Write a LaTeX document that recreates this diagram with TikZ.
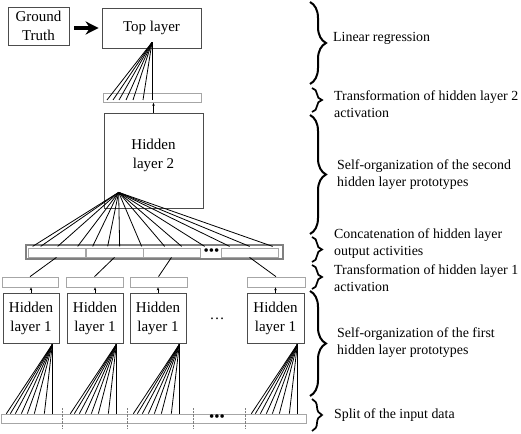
\documentclass[tikz,border=0pt]{standalone}
\usepackage{fontspec}
\setmainfont{Liberation Serif}
\usetikzlibrary{arrows.meta, calc, decorations.pathreplacing}

\begin{document}
\begin{tikzpicture}[x=1pt, y=-1pt]
	\tikzstyle{layer} = [rectangle, draw=black!70, line width=0.7pt, inner sep=0pt, 
	align=center, font=\fontsize{15}{19}\selectfont]
	\tikzstyle{bar} = [rectangle, draw=black!35, line width=0.7pt, fill=white, 
	inner sep=0pt, minimum height=9pt]
	\tikzstyle{link} = [line width=0.8pt]
	\tikzstyle{arrow} = [line width=0.6pt, -{Stealth[length=3pt, width=2.5pt]}]
	\tikzstyle{bigarrow} = [line width=3.5pt, -{Stealth[length=13pt, width=13pt]}, 
	shorten <=5pt, shorten >=3pt]
	\tikzstyle{bigBrace} = [decorate, decoration={brace, amplitude=16pt}, line width=2pt]
	\tikzstyle{smallBrace} = [decorate, decoration={brace, amplitude=10pt}, line width=1.7pt]
	\tikzstyle{note} = [anchor=west, align=left, inner sep=0pt, 
	font=\fontsize{13.9}{17}\selectfont]
	\tikzstyle{dots} = [inner sep=0pt, font=\fontsize{15}{19}\selectfont]
	\useasboundingbox (0,0) rectangle (521,433);
	% top part
	\node (groundTruth) [layer, minimum width=61pt, minimum height=38pt] at (38.5,26) {Ground\\Truth};
	\node (topLayer) [layer, minimum width=99pt, minimum height=40pt] at (151.5,28) {Top layer};
	\node (topBar) [bar, minimum width=98pt] at (152.5,98) {};
	\node (hiddenTwo) [layer, minimum width=99pt, minimum height=95pt, text depth=14pt] 
	at (153.5,160.5) {Hidden\\layer 2};
	% concatenation
	\node (concatBar) [bar, draw=black!50, line width=1.2pt, minimum width=257pt, 
	minimum height=14pt] at (154.5,252) {};
	\node (concatA) [bar, minimum width=57pt] at (56.5,252.5) {};
	\node (concatB) [bar, minimum width=57pt] at (114.5,252.5) {};
	\node (concatC) [bar, minimum width=57pt] at (171.5,252.5) {};
	\node (concatDots) [dots] at (211.5,252.5) {•••};
	\node (concatD) [bar, minimum width=57pt] at (249.5,252.5) {};
	% first hidden layer
	\node (transA) [bar, minimum width=56pt, minimum height=10pt] at (30,282) {};
	\node (transB) [bar, minimum width=57pt, minimum height=10pt] at (94.5,282) {};
	\node (transC) [bar, minimum width=57pt, minimum height=10pt] at (158.5,282) {};
	\node (transD) [bar, minimum width=58pt, minimum height=10pt] at (276,282) {};
	\node (hiddenOneA) [layer, minimum width=56pt, minimum height=50pt] at (31,318) {Hidden\\layer 1};
	\node (hiddenOneB) [layer, minimum width=56pt, minimum height=50pt] at (95,318) {Hidden\\layer 1};
	\node (hiddenOneC) [layer, minimum width=56pt, minimum height=50pt] at (158,318) {Hidden\\layer 1};
	\node (hiddenDots) [dots] at (217,319) {\dots};
	\node (hiddenOneD) [layer, minimum width=57pt, minimum height=50pt] at (275.5,318) {Hidden\\layer 1};
	% input data
	\node (inputBar) [bar, minimum width=305pt] at (153.5,418.5) {};
	\node (inputDots) [dots] at (217,418.5) {•••};
	\foreach \x in {62,127,193,245}
		\draw [densely dotted, black!50] (\x,408) -- (\x,428);
	% connections
	\draw [bigarrow] (groundTruth.east |- topLayer.west) -- (topLayer.west);
	\draw [arrow] (hiddenTwo.north) -- (hiddenTwo.north |- topBar.south);
	\draw [arrow] (hiddenOneA.north) -- (hiddenOneA.north |- transA.south);
	\draw [arrow] (hiddenOneB.north) -- (hiddenOneB.north |- transB.south);
	\draw [arrow] (hiddenOneC.north) -- (hiddenOneC.north |- transC.south);
	\draw [arrow] (hiddenOneD.north) -- (hiddenOneD.north |- transD.south);
	\draw [link] (concatA.south) -- (transA.north);
	\draw [link] (concatB.south) -- (transB.north);
	\draw [link] (concatC.south) -- (transC.north);
	\draw [link] (concatD.south) -- (transD.north);
	% fans
	\coordinate (apexTop) at ($(topLayer.south)+(0.5,-6)$);
	\foreach \dx in {-45,-39,-33,-26,-19,-9,0}
		\draw [link] (apexTop) -- ($(apexTop |- topBar.center)+(\dx,2)$);
	\coordinate (apexTwo) at ($(hiddenTwo.south west)+(15,-16)$);
	\foreach \dx in {-86,-78,-61,-41,-26,-11,1,23,46,63,86,111,131,154}
		\draw [link] (apexTwo) -- ($(apexTwo |- concatBar.north)+(\dx,2)$);
	\foreach \n in {A,B,C,D} {
		\coordinate (apex\n) at ($(hiddenOne\n.south east)+(-7,1)$);
		\foreach \dx in {-46,-42,-37,-31,-25,-18,-8,0}
			\draw [link] (apex\n) -- ($(apex\n |- inputBar.north)+(\dx,0)$);
	}
	% braces and notes
	\draw [bigBrace] (310,2) -- (310,84);
	\draw [smallBrace] (312,88) -- (312,112);
	\draw [bigBrace] (310,115) -- (310,234);
	\draw [smallBrace] (312,237) -- (312,262);
	\draw [smallBrace] (312,265) -- (312,289);
	\draw [bigBrace] (310,291) -- (310,396);
	\draw [smallBrace] (312,399) -- (312,431);
	\node (linRegNote) [note] at (333,38) {Linear regression};
	\node (transTwoNote) [note] at (334,104.5) {Transformation of hidden layer 2\\activation};
	\node (selfTwoNote) [note] at (337,174.5) {Self-organization of the second\\hidden layer prototypes};
	\node (concatNote) [note] at (334,244) {Concatenation of hidden layer\\output activities};
	\node (transOneNote) [note] at (334,278) {Transformation of hidden layer 1\\activation};
	\node (selfOneNote) [note] at (337,343) {Self-organization of the first\\hidden layer prototypes};
	\node (splitNote) [note] at (334,415) {Split of the input data};
\end{tikzpicture}
\end{document}
